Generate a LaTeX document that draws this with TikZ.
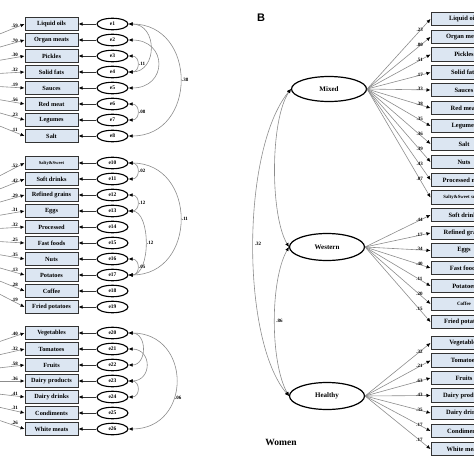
\documentclass[tikz,border=0pt]{standalone}
\usepackage{fontspec}
\setmainfont{Liberation Serif}
\newfontfamily\panelfont{Liberation Sans}
\usetikzlibrary{arrows.meta,shapes.geometric}
\definecolor{boxblue}{RGB}{220,230,242}
\definecolor{pathgray}{RGB}{140,140,140}

\begin{document}
\begin{tikzpicture}[x=1pt,y=-1pt,
    >={Latex[color=black,length=4pt,width=3.6pt]},
    item/.style={draw=black!80,line width=1pt,fill=boxblue,minimum width=53pt,
      minimum height=12.5pt,inner sep=0pt,font=\bfseries\fontsize{6.3}{7}\selectfont},
    itemr/.style={item,minimum width=66pt,minimum height=13.5pt,
      font=\bfseries\fontsize{6.5}{7}\selectfont},
    err/.style={ellipse,draw,line width=1.1pt,fill=white,minimum width=31pt,
      minimum height=11.5pt,inner sep=0pt,font=\bfseries\fontsize{5.5}{6}\selectfont},
    factor/.style={ellipse,draw,line width=1.2pt,fill=white,minimum width=75pt,
      minimum height=27pt,inner sep=0pt,font=\bfseries\fontsize{7}{8}\selectfont},
    load/.style={->,draw=pathgray,line width=.6pt},
    cov/.style={<->,draw=pathgray,line width=.6pt},
    lab/.style={font=\bfseries\fontsize{5}{5}\selectfont,inner sep=.4pt}]
  \useasboundingbox (0,0) rectangle (474,474);
  \clip (0,0) rectangle (474,474);

  % panel A: indicators
  \draw
    (51.5,24) node[item] (l1){Liquid oils}
    (51.5,40) node[item] (l2){Organ meats}
    (51.5,56) node[item] (l3){Pickles}
    (51.5,72) node[item] (l4){Solid fats}
    (51.5,88) node[item] (l5){Sauces}
    (51.5,104) node[item] (l6){Red meat}
    (51.5,120) node[item] (l7){Legumes}
    (51.5,136) node[item] (l8){Salt}
    (51.5,163) node[item,font=\bfseries\fontsize{4.6}{5}\selectfont] (l10){Salty\&Sweet}
    (51.5,179) node[item] (l11){Soft drinks}
    (51.5,195) node[item] (l12){Refined grains}
    (51.5,211) node[item] (l13){Eggs}
    (51.5,227) node[item] (l14){Processed}
    (51.5,243) node[item] (l15){Fast foods}
    (51.5,259) node[item] (l16){Nuts}
    (51.5,275) node[item] (l17){Potatoes}
    (51.5,291) node[item] (l18){Coffee}
    (51.5,307) node[item] (l19){Fried potatoes}
    (51.5,333) node[item] (l20){Vegetables}
    (51.5,349) node[item] (l21){Tomatoes}
    (51.5,365) node[item] (l22){Fruits}
    (51.5,381) node[item] (l23){Dairy products}
    (51.5,397) node[item] (l24){Dairy drinks}
    (51.5,413) node[item] (l25){Condiments}
    (51.5,429) node[item] (l26){White meats};

  % panel A: error terms
  \draw
    (112.5,24) node[err] (e1){e1}
    (112.5,40) node[err] (e2){e2}
    (112.5,56) node[err] (e3){e3}
    (112.5,72) node[err] (e4){e4}
    (112.5,88) node[err] (e5){e5}
    (112.5,104) node[err] (e6){e6}
    (112.5,120) node[err] (e7){e7}
    (112.5,136) node[err] (e8){e8}
    (112.5,163) node[err] (e10){e10}
    (112.5,179) node[err] (e11){e11}
    (112.5,195) node[err] (e12){e12}
    (112.5,211) node[err] (e13){e13}
    (112.5,227) node[err] (e14){e14}
    (112.5,243) node[err] (e15){e15}
    (112.5,259) node[err] (e16){e16}
    (112.5,275) node[err] (e17){e17}
    (112.5,291) node[err] (e18){e18}
    (112.5,307) node[err] (e19){e19}
    (112.5,333) node[err] (e20){e20}
    (112.5,349) node[err] (e21){e21}
    (112.5,365) node[err] (e22){e22}
    (112.5,381) node[err] (e23){e23}
    (112.5,397) node[err] (e24){e24}
    (112.5,413) node[err] (e25){e25}
    (112.5,429) node[err] (e26){e26};

  % panel A: factors lie left of the crop
  \coordinate (fa) at (-115,80);
  \coordinate (fb) at (-115,235);
  \coordinate (fc) at (-115,381);

  \begin{scope}[->,draw=black!80,line width=.6pt]
    \draw (e1) to (l1);
    \draw (e2) to (l2);
    \draw (e3) to (l3);
    \draw (e4) to (l4);
    \draw (e5) to (l5);
    \draw (e6) to (l6);
    \draw (e7) to (l7);
    \draw (e8) to (l8);
    \draw (e10) to (l10);
    \draw (e11) to (l11);
    \draw (e12) to (l12);
    \draw (e13) to (l13);
    \draw (e14) to (l14);
    \draw (e15) to (l15);
    \draw (e16) to (l16);
    \draw (e17) to (l17);
    \draw (e18) to (l18);
    \draw (e19) to (l19);
    \draw (e20) to (l20);
    \draw (e21) to (l21);
    \draw (e22) to (l22);
    \draw (e23) to (l23);
    \draw (e24) to (l24);
    \draw (e25) to (l25);
    \draw (e26) to (l26);
  \end{scope}

  \begin{scope}[every node/.style={lab,pos=.93,above}]
    \draw[load] (fa) -- (l1.west) node{.59};
    \draw[load] (fa) -- (l2.west) node{.70};
    \draw[load] (fa) -- (l3.west) node{.30};
    \draw[load] (fa) -- (l4.west) node{.32};
    \draw[load] (fa) -- (l5.west) node{.19};
    \draw[load] (fa) -- (l6.west) node{.56};
    \draw[load] (fa) -- (l7.west) node{.23};
    \draw[load] (fa) -- (l8.west) node{.11};
    \draw[load] (fb) -- (l10.west) node{.52};
    \draw[load] (fb) -- (l11.west) node{.42};
    \draw[load] (fb) -- (l12.west) node{.29};
    \draw[load] (fb) -- (l13.west) node{.31};
    \draw[load] (fb) -- (l14.west) node{.32};
    \draw[load] (fb) -- (l15.west) node{.25};
    \draw[load] (fb) -- (l16.west) node{.35};
    \draw[load] (fb) -- (l17.west) node{.13};
    \draw[load] (fb) -- (l18.west) node{.28};
    \draw[load] (fb) -- (l19.west) node{.19};
    \draw[load] (fc) -- (l20.west) node{.40};
    \draw[load] (fc) -- (l21.west) node{.32};
    \draw[load] (fc) -- (l22.west) node{.58};
    \draw[load] (fc) -- (l23.west) node{.36};
    \draw[load] (fc) -- (l24.west) node{.41};
    \draw[load] (fc) -- (l25.west) node{.31};
    \draw[load] (fc) -- (l26.west) node{.26};
  \end{scope}

  % panel A: correlated errors
  \begin{scope}[every node/.style={lab,right=1pt}]
    \draw[cov] (e1.east) to[out=0,in=0,looseness=1.56] (e4.east);
    \draw[cov] (e2.east) to[out=0,in=0,looseness=2.1] (e5.east);
    \draw[cov] (e3.east) to[out=0,in=0,looseness=1.9] node{.11} (e4.east);
    \draw[cov] (e1.east) to[out=0,in=0,looseness=1.58] node{.38} (e8.east);
    \draw[cov] (e6.east) to[out=0,in=0,looseness=1.9] node{.08} (e7.east);
    \draw[cov] (e10.east) to[out=0,in=0,looseness=1.9] node{.02} (e11.east);
    \draw[cov] (e12.east) to[out=0,in=0,looseness=1.9] node{.12} (e13.east);
    \draw[cov] (e10.east) to[out=0,in=0,looseness=1.58] node{.11} (e17.east);
    \draw[cov] (e13.east) to[out=0,in=0,looseness=.9] node{.12} (e17.east);
    \draw[cov] (e16.east) to[out=0,in=0,looseness=1.9] node{.05} (e17.east);
    \draw[cov] (e20.east) to[out=0,in=0,looseness=1.5] (e22.east);
    \draw[cov] (e21.east) to[out=0,in=0,looseness=1.9] (e23.east);
    \draw[cov] (e23.east) to[out=0,in=0,looseness=1.9] (e24.east);
    \draw[cov] (e20.east) to[out=0,in=0,looseness=1.7] node[pos=.62]{.06} (e26.east);
  \end{scope}

  % panel B
  \node[font=\panelfont\bfseries\fontsize{11}{12}\selectfont] (tag) at (261,18) {B};
  \node[font=\bfseries\fontsize{9.5}{10}\selectfont] (grp) at (281,442) {Women};

  \draw
    (329,89) node[factor,minimum height=25pt] (mixed){Mixed}
    (327,247) node[factor] (western){Western}
    (327,396) node[factor] (healthy){Healthy};

  \draw
    (464,19) node[itemr] (r1){Liquid oils}
    (464,37) node[itemr] (r2){Organ meats}
    (464,54.5) node[itemr] (r3){Pickles}
    (464,72.5) node[itemr] (r4){Solid fats}
    (464,90) node[itemr] (r5){Sauces}
    (464,108) node[itemr] (r6){Red meat}
    (464,126) node[itemr] (r7){Legumes}
    (464,144) node[itemr] (r8){Salt}
    (464,162) node[itemr] (r9){Nuts}
    (464,180) node[itemr] (r10){Processed meat}
    (464,197.5) node[itemr,font=\bfseries\fontsize{4.8}{5}\selectfont] (r11){Salty\&Sweet snacks}
    (464,215) node[itemr] (r12){Soft drinks}
    (464,233) node[itemr] (r13){Refined grains}
    (464,250.5) node[itemr] (r14){Eggs}
    (464,268) node[itemr] (r15){Fast foods}
    (464,286) node[itemr] (r16){Potatoes}
    (464,304) node[itemr,font=\bfseries\fontsize{5}{5}\selectfont] (r17){Coffee}
    (464,322) node[itemr] (r18){Fried potatoes}
    (464,343) node[itemr] (r19){Vegetables}
    (464,360.5) node[itemr] (r20){Tomatoes}
    (464,378) node[itemr] (r21){Fruits}
    (464,395.5) node[itemr] (r22){Dairy products}
    (464,413) node[itemr] (r23){Dairy drinks}
    (464,431) node[itemr] (r24){Condiments}
    (464,449) node[itemr] (r25){White meats};

  \begin{scope}[every node/.style={lab,pos=.83,above=-1.8pt}]
    \draw[load] (mixed.east) -- (r1.west) node{.23};
    \draw[load] (mixed.east) -- (r2.west) node{.80};
    \draw[load] (mixed.east) -- (r3.west) node{.51};
    \draw[load] (mixed.east) -- (r4.west) node{.17};
    \draw[load] (mixed.east) -- (r5.west) node{.33};
    \draw[load] (mixed.east) -- (r6.west) node{.38};
    \draw[load] (mixed.east) -- (r7.west) node{.35};
    \draw[load] (mixed.east) -- (r8.west) node{.36};
    \draw[load] (mixed.east) -- (r9.west) node{.39};
    \draw[load] (mixed.east) -- (r10.west) node{.43};
    \draw[load] (mixed.east) -- (r11.west) node{.07};
    \draw[load] (western.east) -- (r12.west) node{.44};
    \draw[load] (western.east) -- (r13.west) node{.17};
    \draw[load] (western.east) -- (r14.west) node{.34};
    \draw[load] (western.east) -- (r15.west) node{.40};
    \draw[load] (western.east) -- (r16.west) node{.11};
    \draw[load] (western.east) -- (r17.west) node{.20};
    \draw[load] (western.east) -- (r18.west) node{.15};
    \draw[load] (healthy.east) -- (r19.west) node{.32};
    \draw[load] (healthy.east) -- (r20.west) node{.21};
    \draw[load] (healthy.east) -- (r21.west) node{.63};
    \draw[load] (healthy.east) -- (r22.west) node{.43};
    \draw[load] (healthy.east) -- (r23.west) node{.35};
    \draw[load] (healthy.east) -- (r24.west) node{.17};
    \draw[load] (healthy.east) -- (r25.west) node{.17};
  \end{scope}

  % factor correlations
  \draw[cov] (mixed.west) .. controls (241,150) and (241,340) .. node[lab,right=1pt]{.32} (healthy.west);
  \draw[cov] (mixed.west) .. controls (270,120) and (270,215) .. (western.west);
  \draw[cov] (western.west) .. controls (270,280) and (270,362) .. node[lab,right=1pt]{.86} (healthy.west);
\end{tikzpicture}
\end{document}
